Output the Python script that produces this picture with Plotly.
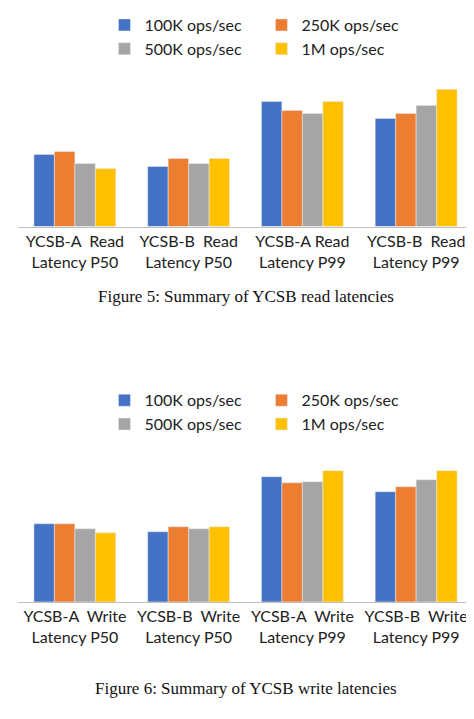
import plotly.graph_objects as go
from plotly.subplots import make_subplots

series = ["100K ops/sec", "250K ops/sec", "500K ops/sec", "1M ops/sec"]
colors = ["#4472C4", "#ED7D31", "#A5A5A5", "#FFC000"]

read_cats = ["YCSB-A  Read<br>Latency P50", "YCSB-B  Read<br>Latency P50",
             "YCSB-A Read<br>Latency P99", "YCSB-B  Read<br>Latency P99"]
write_cats = ["YCSB-A  Write<br>Latency P50", "YCSB-B  Write<br>Latency P50",
              "YCSB-A  Write<br>Latency P99", "YCSB-B  Write<br>Latency P99"]

# relative bar heights (no axis values shown)
read_vals = [
    [72, 60, 125, 108],
    [75, 68, 116, 113],
    [63, 63, 113, 121],
    [58, 68, 125, 137],
]
write_vals = [
    [78, 70, 125, 110],
    [78, 75, 119, 115],
    [73, 73, 120, 122],
    [69, 75, 131, 131],
]

fig = make_subplots(rows=2, cols=1)

for i, name in enumerate(series):
    fig.add_trace(go.Bar(x=read_cats, y=read_vals[i], name=name,
                         marker_color=colors[i], legend="legend"), row=1, col=1)
    fig.add_trace(go.Bar(x=write_cats, y=write_vals[i], name=name,
                         marker_color=colors[i], legend="legend2"), row=2, col=1)

fig.update_xaxes(showline=True, linecolor="#BFBFBF", linewidth=1, ticks="",
                 tickfont=dict(family="Lato", size=16, color="#222"))
fig.update_yaxes(visible=False, range=[0, 140])
fig.update_layout(
    xaxis=dict(domain=[0, 1]), xaxis2=dict(domain=[0, 1]),
    yaxis=dict(domain=[0.696, 0.891]),
    yaxis2=dict(domain=[0.174, 0.369]),
)

legend_style = dict(orientation="h", entrywidth=112, xanchor="left", x=0.19,
                    yanchor="top", font=dict(family="Lato", size=16, color="#222"),
                    traceorder="normal", itemwidth=30)
fig.update_layout(
    legend=dict(legend_style, y=1.0),
    legend2=dict(legend_style, y=0.478),
    bargap=0.28, bargroupgap=0,
    width=474, height=719,
    margin=dict(l=10, r=9, t=0, b=0),
    plot_bgcolor="white", paper_bgcolor="white",
    annotations=[
        dict(text="Figure 5: Summary of YCSB read latencies", x=0.5, y=1 - 288 / 719,
             xref="paper", yref="paper", showarrow=False,
             font=dict(family="Liberation Serif", size=17, color="#111")),
        dict(text="Figure 6: Summary of YCSB write latencies", x=0.5, y=1 - 692 / 719,
             xref="paper", yref="paper", showarrow=False,
             font=dict(family="Liberation Serif", size=17, color="#111")),
    ],
)

fig.write_html("out.html")
